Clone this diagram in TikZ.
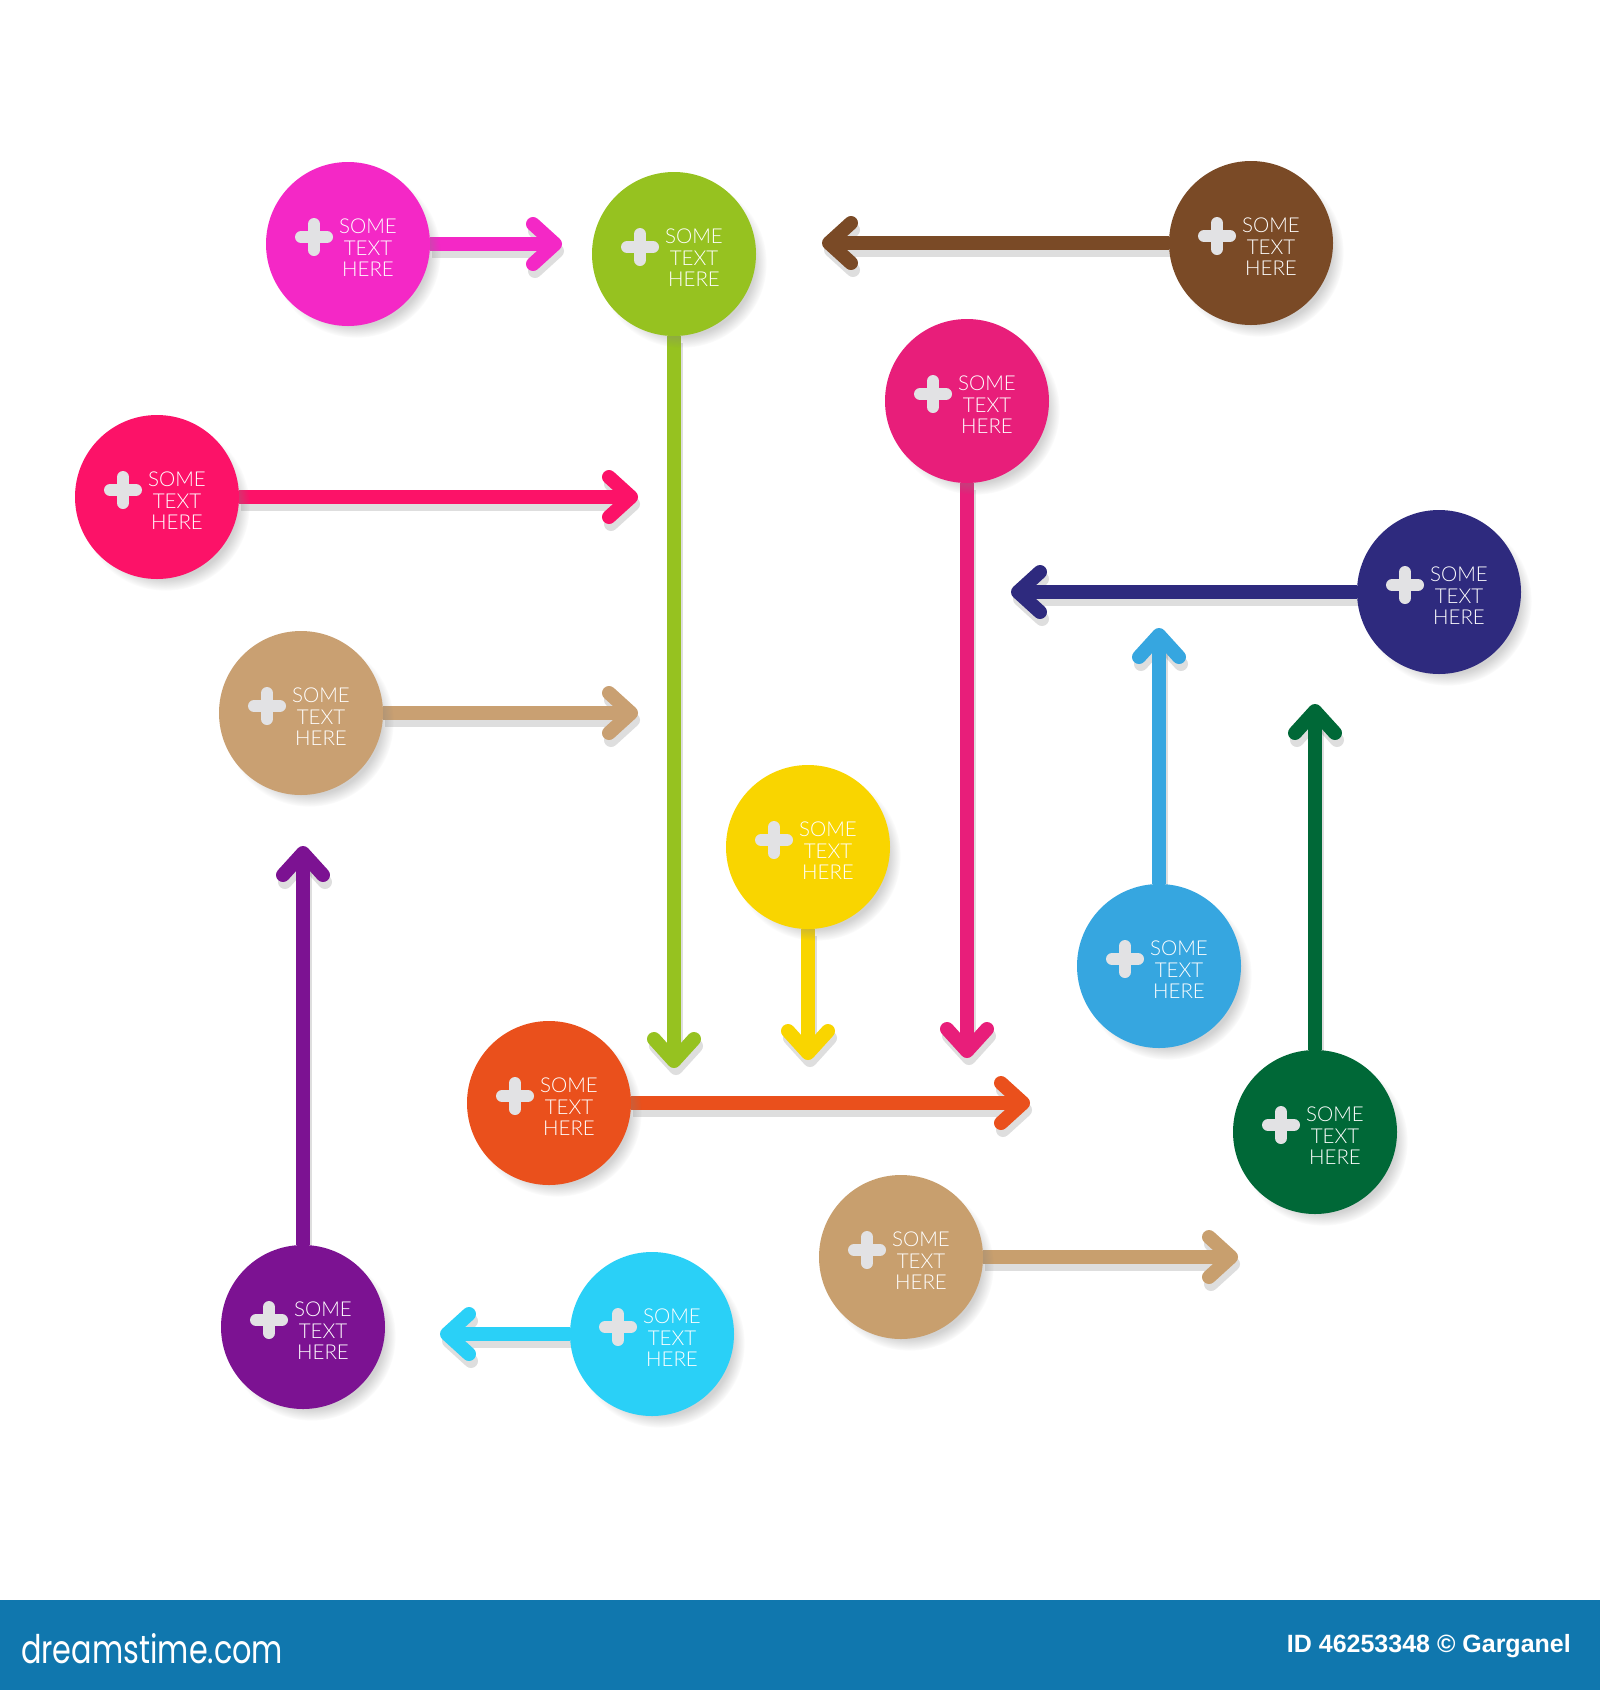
\documentclass[tikz,border=0pt]{standalone}
\usepackage{fontspec}
\usepackage{graphicx}
\setmainfont{Liberation Sans}
\newfontfamily\thinfont{Lato Light}
\newfontfamily\logofont{Poppins}
\usetikzlibrary{arrows.meta,shadows,fadings}
\pgfdeclarelayer{bg}\pgfdeclarelayer{back}
\pgfsetlayers{bg,back,main}
\definecolor{cMag}{RGB}{244,40,198}
\definecolor{cGreen}{RGB}{150,194,32}
\definecolor{cBrown}{RGB}{122,74,38}
\definecolor{cPink}{RGB}{232,30,122}
\definecolor{cCrimson}{RGB}{252,18,104}
\definecolor{cNavy}{RGB}{46,42,126}
\definecolor{cTan}{RGB}{201,160,114}
\definecolor{cYellow}{RGB}{249,213,0}
\definecolor{cLBlue}{RGB}{54,166,224}
\definecolor{cOrange}{RGB}{234,80,28}
\definecolor{cDGreen}{RGB}{0,104,55}
\definecolor{cTanB}{RGB}{200,159,110}
\definecolor{cPurple}{RGB}{124,18,146}
\definecolor{cCyan}{RGB}{42,208,247}
\definecolor{cBar}{RGB}{16,119,174}
\definecolor{cPlus}{RGB}{226,226,228}
\tikzset{
  bubble/.style={circle, minimum size=164pt, inner sep=0pt,
    circular drop shadow={shadow xshift=8pt, shadow yshift=-9pt, opacity=0.35, shadow scale=1.03}},
  btext/.style={text=white, font=\thinfont\fontsize{20.5}{21.5}\selectfont, align=center, inner sep=0pt},
  plusmark/.style={draw=cPlus, line width=12pt, line cap=round},
  arr/.style={line width=14pt, -{Straight Barb[length=22pt, width=40pt, round]}},
  arrsh/.style={arr, draw=black, opacity=0.13, transform canvas={shift={(2pt,-7pt)}}},
}
\newcommand\mkbubble[4]{%
  \node[bubble, fill=#4] (#1) at (#2,#3) {};
  \node[btext] (#1t) at ([shift={(20,4)}]#1.center) {SOME\\TEXT\\HERE};
  \draw[plusmark] ([shift={(-47,-7)}]#1.center) -- ([shift={(-21,-7)}]#1.center)
                  ([shift={(-34,-20)}]#1.center) -- ([shift={(-34,6)}]#1.center);
}
\newcommand\mkarrow[3]{%
  \draw[arrsh] (#1) -- (#2);
  \draw[arr, draw=#3] (#1) -- (#2);
}
\begin{document}
\begin{tikzpicture}[x=1pt, y=-1pt]
\useasboundingbox (0,0) rectangle (1600,1690);
\begin{pgfonlayer}{bg}
  \fill[white] (0,0) rectangle (1600,1690);
  \fill[cBar] (0,1600) rectangle (1600,1690);
\end{pgfonlayer}
\node[anchor=base west, text=white, inner sep=0pt] (logo) at (21,1663)
  {\resizebox{262pt}{30pt}{\logofont dreamstime.com}};
\node[anchor=base east, text=white, inner sep=0pt, font=\bfseries\fontsize{25}{25}\selectfont] (credit) at (1571,1652) {ID 46253348 © Garganel};

\mkbubble{c1}{348}{244}{cMag}
\mkbubble{c2}{674}{254}{cGreen}
\mkbubble{c3}{1251}{243}{cBrown}
\mkbubble{c4}{967}{401}{cPink}
\mkbubble{c5}{157}{497}{cCrimson}
\mkbubble{c6}{1439}{592}{cNavy}
\mkbubble{c7}{301}{713}{cTan}
\mkbubble{c8}{808}{847}{cYellow}
\mkbubble{c9}{1159}{966}{cLBlue}
\mkbubble{c10}{549}{1103}{cOrange}
\mkbubble{c11}{1315}{1132}{cDGreen}
\mkbubble{c12}{901}{1257}{cTanB}
\mkbubble{c13}{303}{1327}{cPurple}
\mkbubble{c14}{652}{1334}{cCyan}

\coordinate (t1) at (562,244);
\coordinate (t2) at (674,1068);
\coordinate (t3) at (822,243);
\coordinate (t4) at (967,1058);
\coordinate (t5) at (638,497);
\coordinate (t6) at (1011,592);
\coordinate (t7) at (638,713);
\coordinate (t8) at (808,1060);
\coordinate (t9) at (1159,628);
\coordinate (t10) at (1030,1103);
\coordinate (t11) at (1315,704);
\coordinate (t12) at (1238,1257);
\coordinate (t13) at (303,846);
\coordinate (t14) at (440,1334);

\begin{pgfonlayer}{back}
  \mkarrow{c1}{t1}{cMag}
  \mkarrow{c2}{t2}{cGreen}
  \mkarrow{c3}{t3}{cBrown}
  \mkarrow{c4}{t4}{cPink}
  \mkarrow{c5}{t5}{cCrimson}
  \mkarrow{c6}{t6}{cNavy}
  \mkarrow{c7}{t7}{cTan}
  \mkarrow{c8}{t8}{cYellow}
  \mkarrow{c9}{t9}{cLBlue}
  \mkarrow{c10}{t10}{cOrange}
  \mkarrow{c11}{t11}{cDGreen}
  \mkarrow{c12}{t12}{cTanB}
  \mkarrow{c13}{t13}{cPurple}
  \mkarrow{c14}{t14}{cCyan}
\end{pgfonlayer}
\end{tikzpicture}
\end{document}
